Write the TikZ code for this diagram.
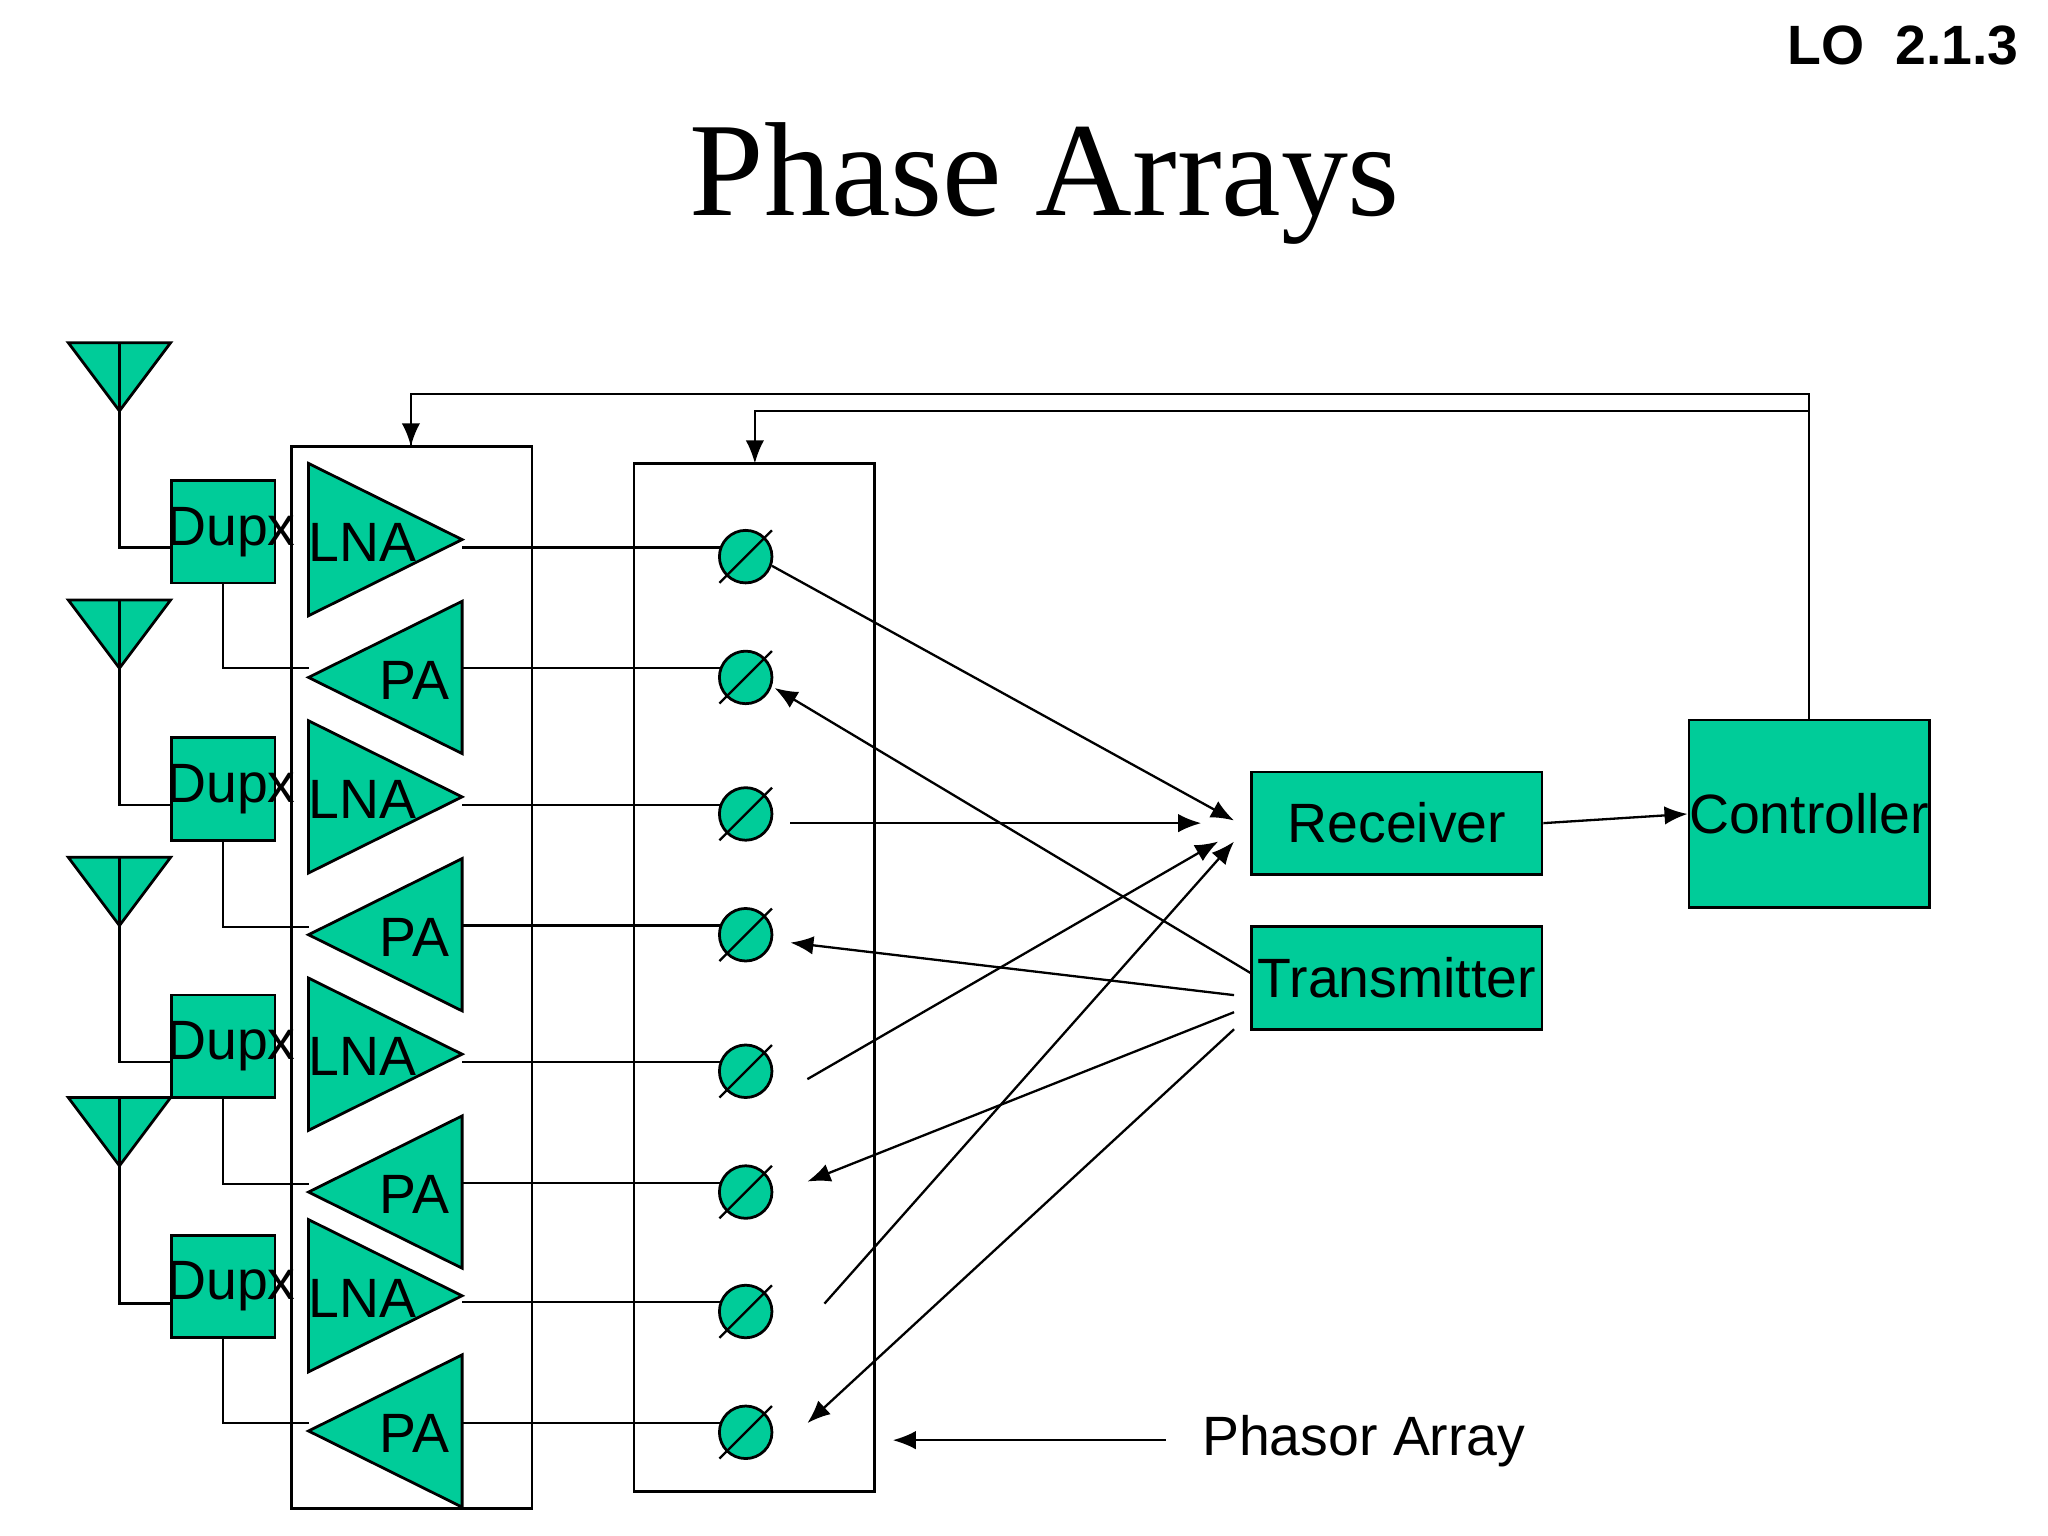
\documentclass[tikz,border=0pt]{standalone}
\usepackage{fontspec}
\setmainfont{Liberation Sans}
\newfontfamily\titlefont{Liberation Serif}
\usetikzlibrary{arrows.meta}
\definecolor{grn}{RGB}{0,204,153}
\begin{document}
\begin{tikzpicture}[x=0.01cm,y=-0.01cm,
  box/.style={draw,fill=grn,line width=0.6pt},
  lbl/.style={font=\fontsize{12}{14}\selectfont,inner sep=0},
  ln/.style={line width=0.5pt},
  arr/.style={ln,-{Latex[length=5pt,width=4pt]}}]
\useasboundingbox (0,0) rectangle (1560,1170);
\node[font=\titlefont\fontsize{29}{34}\selectfont] (title) at (796,140) {Phase Arrays};
\node[font=\bfseries\fontsize{12}{14}\selectfont,anchor=east] (lo) at (1550,35) {LO\ \ 2.1.3};
% boxes
\draw[ln] (222,340) rectangle (405,1149);
\draw[ln] (483,353) rectangle (666,1136);
\coordinate (mb) at (575,353);
\coordinate (lb) at (313,340);
% antennas, duplexers
\foreach \i/\ty/\dy in {1/261/405, 2/457/601, 3/653/797, 4/836/980}{
  \draw[box] (52,\ty) -- (130,\ty) -- (91,\ty+52) -- cycle;
  \draw[ln] (91,\ty) -- (91,\ty+52);
  \node[box,minimum width=0.79cm,minimum height=0.78cm,inner sep=0] (d\i) at (170,\dy) {};
  \node[lbl,anchor=west] at (126,\dy) {Dupx};
}
% LNA / PA
\foreach \i/\y in {1/411,2/607,3/803,4/987}{
  \draw[box] (235,\y-58) -- (352,\y) -- (235,\y+58) -- cycle;
  \node[lbl] at (276,\y+2) {LNA};
}
\foreach \i/\y in {1/516,2/712,3/908,4/1090}{
  \draw[box] (352,\y-58) -- (235,\y) -- (352,\y+58) -- cycle;
  \node[lbl] at (316,\y+2) {PA};
}
% antenna to dupx
\draw[ln] (91,313) |- (130,417);
\draw[ln] (91,509) |- (130,613);
\draw[ln] (91,705) |- (130,809);
\draw[ln] (91,888) |- (130,993);
\foreach \i/\yb in {1/509,2/706,3/902,4/1084}{
  \draw[ln] (d\i.south) |- (235,\yb);
}
% phasors
\foreach \i/\y in {1/424,2/516,3/620,4/712,5/816,6/908,7/999,8/1091}{
  \draw[ln] (352,\y-7) -- (549,\y-7);
  \node[box,circle,minimum size=0.4cm,inner sep=0] (p\i) at (568,\y) {};
  \draw[ln] (548,\y+20) -- (588,\y-20);
}
% receiver etc
\node[box,minimum width=2.21cm,minimum height=0.78cm,lbl] (rx) at (1064,627) {Receiver};
\node[box,minimum width=2.21cm,minimum height=0.78cm,lbl] (tx) at (1064,745) {Transmitter};
\node[box,minimum width=1.70cm,minimum height=1.43cm,lbl] (ctl) at (1378,620) {Controller};
\draw[arr] (rx.east) -- (ctl.west);
\draw[ln] (ctl.north) |- (1378,300) -| (lb) ;
\draw[arr] (313,320) -- (lb);
\draw[ln] (1378,313) -| (575,330);
\draw[arr] (575,330) -- (mb);
% signal arrows
\draw[arr] (588,431) -- (940,625);
\draw[arr] (954,742) -- (590,524);
\draw[arr] (602,627) -- (915,627);
\draw[arr] (940,758) -- (602,718);
\draw[arr] (615,822) -- (928,641);
\draw[arr] (940,771) -- (615,900);
\draw[arr] (628,993) -- (940,641);
\draw[arr] (940,784) -- (615,1084);
% phasor array label
\node[lbl,anchor=west] (pa) at (915,1098) {Phasor Array};
\draw[arr] (888,1097) -- (680,1097);
\end{tikzpicture}
\end{document}
